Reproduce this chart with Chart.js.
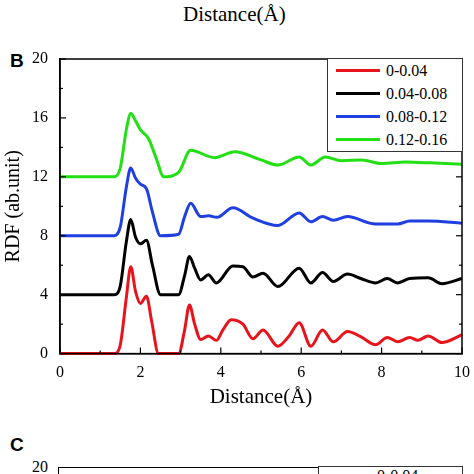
<!DOCTYPE html>
<html>
<head>
<meta charset="utf-8">
<script src="https://cdn.jsdelivr.net/npm/chart.js@4/dist/chart.umd.min.js"></script>
<style>
body { margin: 0; background: #fff; font-family: "Liberation Serif", serif; }
#wrap { position: relative; width: 474px; height: 474px; overflow: hidden; }
.txt { position: absolute; color: #000; }
#box { position: absolute; left: 0px; top: 40px; width: 474px; height: 370px; }
#legend { position: absolute; left: 327px; top: 58px; width: 134px; border: 1px solid #333; background: #fff; font-size: 16px; }
#legend div { height: 23px; line-height: 23px; }
#legend span { display: inline-block; width: 44px; height: 3px; margin: 0 6px 4px 8px; vertical-align: middle; }
#panelC { position: absolute; left: 58px; top: 467px; width: 403px; height: 20px; border: 1.5px solid #000; }
</style>
</head>
<body>
<div id="wrap">
  <div class="txt" style="left:183px;top:2px;font-size:21px;">Distance(Å)</div>
  <div class="txt" style="left:10px;top:50px;font-size:19px;font-weight:bold;font-family:'Liberation Sans';">B</div>
  <div class="txt" style="left:10px;top:434px;font-size:19px;font-weight:bold;font-family:'Liberation Sans';">C</div>
  <div class="txt" style="left:32px;top:458px;font-size:16px;">20</div>
  <div id="box"><canvas id="myChart"></canvas></div>
  <div id="legend"></div>
  <div id="panelC"></div>
  <div class="txt" style="left:318px;top:466px;width:143px;height:20px;border:1px solid #333;font-size:16px;background:#fff;"><span style="display:inline-block;width:44px;height:3px;background:#e8141c;margin:0 6px 4px 8px;vertical-align:middle;"></span>0-0.04</div>
</div>
<script>
let labels = ['0-0.04', '0.04-0.08', '0.08-0.12', '0.12-0.16'];
let colors = ['#e8141c', '#000000', '#1f3fe0', '#22e014'];

let red_x = [0, 1.35, 1.5, 1.65, 1.76, 1.88, 2.0, 2.15, 2.28, 2.45, 2.95, 3.1, 3.22, 3.35, 3.5, 3.69, 3.89, 4.05, 4.26, 4.55, 4.8, 5.05, 5.42, 5.7, 5.95, 6.24, 6.53, 6.8, 7.15, 7.48, 7.85, 8.14, 8.4, 8.7, 8.9, 9.16, 9.5, 9.9, 10];
let red_y = [0, 0, 0.6, 3.8, 5.9, 4.2, 3.4, 3.9, 2.2, 0, 0, 1.6, 3.3, 2.0, 0.95, 1.2, 0.9, 1.6, 2.3, 2.0, 1.0, 1.6, 0.5, 1.2, 2.1, 0.5, 1.6, 0.8, 1.5, 1.15, 0.6, 1.1, 0.8, 1.1, 0.9, 1.2, 0.75, 1.15, 1.3];

let black_x = [0, 1.35, 1.5, 1.65, 1.76, 1.88, 2.0, 2.15, 2.3, 2.5, 2.95, 3.1, 3.22, 3.35, 3.5, 3.69, 3.89, 4.3, 4.55, 4.8, 5.05, 5.42, 5.95, 6.24, 6.53, 6.8, 7.15, 7.48, 7.85, 8.14, 8.4, 8.7, 9.16, 9.5, 10];
let black_y = [4, 4, 4.6, 7.6, 9.1, 7.9, 7.45, 7.7, 6.0, 4.0, 4.0, 5.3, 6.6, 5.8, 5.0, 5.35, 4.8, 5.95, 5.9, 5.2, 5.45, 4.55, 5.8, 4.8, 5.5, 4.9, 5.4, 5.1, 4.8, 5.1, 4.8, 5.1, 5.15, 4.75, 5.1];

let blue_x = [0, 1.35, 1.5, 1.65, 1.76, 1.88, 2.0, 2.15, 2.3, 2.5, 2.95, 3.1, 3.25, 3.5, 3.7, 3.9, 4.3, 4.8, 5.42, 5.95, 6.24, 6.53, 6.8, 7.15, 7.85, 8.4, 8.7, 9.16, 10];
let blue_y = [8, 8, 8.6, 11.3, 12.6, 11.9, 11.5, 11.2, 9.6, 8.0, 8.1, 9.3, 10.2, 9.3, 9.35, 9.25, 9.9, 9.2, 8.7, 9.55, 8.95, 9.3, 9.05, 9.3, 8.8, 8.8, 9.0, 9.0, 8.85];

let green_x = [0, 1.35, 1.5, 1.65, 1.76, 1.88, 2.0, 2.2, 2.4, 2.58, 2.95, 3.25, 3.85, 4.35, 5.0, 5.42, 5.95, 6.24, 6.6, 7.0, 7.5, 8.0, 8.6, 9.2, 10];
let green_y = [12, 12, 12.6, 15.2, 16.3, 15.8, 15.2, 14.6, 13.2, 12.0, 12.3, 13.8, 13.3, 13.7, 13.15, 12.8, 13.35, 12.8, 13.35, 13.1, 13.15, 12.9, 13.0, 12.95, 12.85];

let x_ticks = [0, 2, 4, 6, 8, 10];
let y_ticks = [0, 4, 8, 12, 16, 20];

function pts(xs, ys) {
  return xs.map((x, i) => ({ x: x, y: ys[i] }));
}

let series = [[red_x, red_y], [black_x, black_y], [blue_x, blue_y], [green_x, green_y]];

// legend box
let legendBox = document.getElementById('legend');
labels.forEach((l, i) => {
  let row = document.createElement('div');
  row.innerHTML = '<span style="background:' + colors[i] + '"></span>' + l;
  legendBox.appendChild(row);
});

// inward tick marks
const innerTicks = {
  id: 'innerTicks',
  afterDraw(chart) {
    const ctx = chart.ctx, xs = chart.scales.x, ys = chart.scales.y, a = chart.chartArea;
    ctx.save();
    ctx.strokeStyle = '#000';
    ctx.lineWidth = 1.2;
    for (let v = 0; v <= 10; v++) {
      let p = xs.getPixelForValue(v), len = v % 2 === 0 ? 6 : 3;
      ctx.beginPath(); ctx.moveTo(p, a.bottom); ctx.lineTo(p, a.bottom - len); ctx.stroke();
    }
    for (let v = 0; v <= 20; v += 2) {
      let p = ys.getPixelForValue(v), len = v % 4 === 0 ? 6 : 3;
      ctx.beginPath(); ctx.moveTo(a.left, p); ctx.lineTo(a.left + len, p); ctx.stroke();
      ctx.beginPath(); ctx.moveTo(a.right, p); ctx.lineTo(a.right - len, p); ctx.stroke();
    }
    ctx.lineWidth = 1.5;
    ctx.strokeRect(a.left, a.top, a.right - a.left, a.bottom - a.top);
    ctx.restore();
  }
};

let myChart = new Chart(document.getElementById('myChart'), {
  type: 'line',
  data: {
    datasets: series.map((s, i) => ({
      label: labels[i],
      data: pts(s[0], s[1]),
      borderColor: colors[i],
      borderWidth: 3,
      pointRadius: 0,
      tension: 0.4,
      cubicInterpolationMode: 'monotone',
      clip: 4
    }))
  },
  options: {
    responsive: true,
    maintainAspectRatio: false,
    animation: false,
    layout: { padding: { top: 19, right: 12 } },
    plugins: { legend: { display: false }, tooltip: { enabled: false } },
    scales: {
      x: {
        type: 'linear', min: 0, max: 10,
        afterBuildTicks: s => { s.ticks = x_ticks.map(v => ({ value: v })); },
        grid: { display: false },
        border: { color: '#000', width: 1.5 },
        ticks: { color: '#000', font: { family: 'Liberation Serif', size: 16 }, padding: 2 },
        title: { display: true, text: 'Distance(Å)', color: '#000', font: { family: 'Liberation Serif', size: 21 }, padding: 0 }
      },
      y: {
        min: 0, max: 20,
        afterBuildTicks: s => { s.ticks = y_ticks.map(v => ({ value: v })); },
        grid: { display: false },
        border: { color: '#000', width: 1.5 },
        ticks: { color: '#000', font: { family: 'Liberation Serif', size: 16 }, padding: 4 },
        title: { display: true, text: 'RDF (ab.unit)', color: '#000', font: { family: 'Liberation Serif', size: 20 }, padding: 2 }
      }
    }
  },
  plugins: [innerTicks]
});
</script>
</body>
</html>
